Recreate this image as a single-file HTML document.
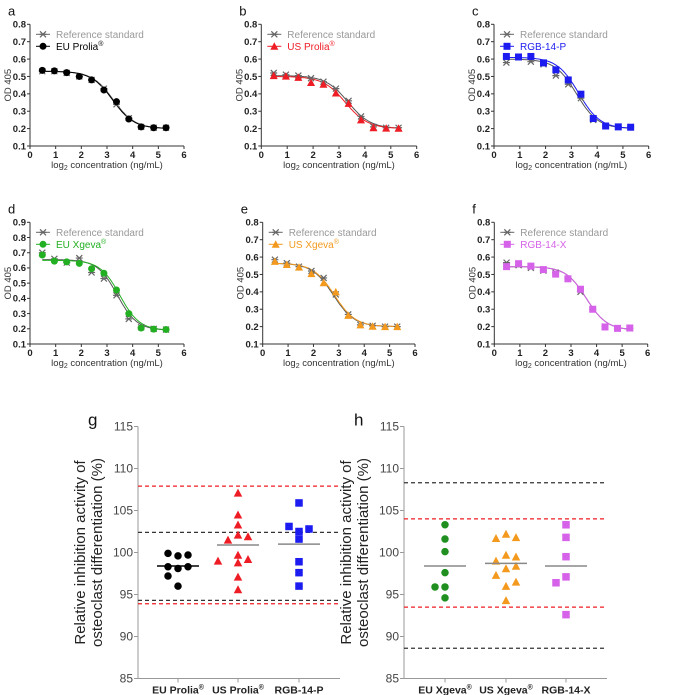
<!DOCTYPE html>
<html><head><meta charset="utf-8"><style>
body{margin:0;background:#fff}
svg{display:block;font-family:"Liberation Sans",Arial,sans-serif}
</style></head><body>
<svg id="c" width="685" height="695" viewBox="0 0 685 695"></svg>
<script>
const xConc=[0.48,0.95,1.43,1.92,2.4,2.88,3.37,3.85,4.33,4.82,5.3];
const panelLabels=['a','b','c','d','e','f'];
const sampleNames=['EU Prolia','US Prolia','RGB-14-P','EU Xgeva','US Xgeva','RGB-14-X'];
const sampleReg=[true,true,false,true,true,false];
const refVals=[
[.53,.53,.52,.50,.48,.43,.34,.26,.21,.205,.205],
[.52,.51,.505,.49,.47,.43,.36,.27,.21,.205,.205],
[.58,.61,.585,.57,.505,.455,.375,.25,.215,.21,.21],
[.70,.66,.635,.665,.57,.53,.42,.265,.21,.2,.195],
[.585,.565,.545,.52,.48,.385,.27,.21,.205,.2,.2],
[.568,.553,.538,.522,.51,.475,.40,.30,.2,.19,.19]];
const sampleVals=[
[.535,.532,.522,.500,.480,.422,.355,.255,.210,.205,.205],
[.505,.502,.495,.465,.455,.405,.345,.25,.205,.203,.202],
[.615,.612,.615,.578,.538,.48,.398,.258,.215,.21,.208],
[.685,.645,.64,.63,.595,.565,.455,.30,.205,.198,.195],
[.575,.557,.542,.505,.452,.40,.265,.21,.202,.2,.2],
[.545,.562,.548,.528,.502,.475,.415,.30,.198,.19,.192]];
// curve params [top,bottom,mid,steep]
const refFit=[[.53,.2,3.25,2.4],[.505,.2,3.35,2.3],[.60,.2,3.2,2.4],[.655,.19,3.4,2.6],[.565,.2,2.78,2.4],[.545,.18,3.6,2.5]];
const sampleFit=[[.53,.2,3.22,2.4],[.50,.2,3.25,2.3],[.61,.2,3.28,2.4],[.65,.19,3.5,2.6],[.565,.2,2.82,2.4],[.545,.18,3.6,2.5]];
const yTickCounts=[8,8,8,9,8,8];

const gCats=['EU Prolia','US Prolia','RGB-14-P'];
const gVals=[[99.6,99.9,99.7,98.1,98.3,98.3,97.2,96.0],
[107.1,104.5,103.3,102.1,101.5,101.9,99.7,98.8,99.2,99.0,97.1,95.6],
[105.9,102.5,103.1,102.8,101.6,98.9,97.6,96.0]];
const gMeans=[98.4,100.9,101.0];
const gRed=[107.9,93.9];const gBlack=[102.4,94.3];
const hCats=['EU Xgeva','US Xgeva','RGB-14-X'];
const hVals=[[103.3,101.6,100.1,97.6,95.9,95.9,94.6],
[102.2,101.7,101.8,99.7,99.0,99.5,98.1,98.4,97.3,96.0,96.5,94.3],
[103.3,101.8,99.5,97.1,96.4,92.6]];
const hMeans=[98.4,98.7,98.4];
const hRed=[104.0,93.5];const hBlack=[108.3,88.6];
const yTicksBottom=[85,90,95,100,105,110,115];

const colors=['#000','#ee1c24','#1c1cf0','#22b022','#f39a1e','#d562e8'];
const shapes=['circle','tri','square','circle','tri','square'];
const NS='http://www.w3.org/2000/svg';
const svg=document.getElementById('c');
function el(t,a,p){const e=document.createElementNS(NS,t);for(const k in a)e.setAttribute(k,a[k]);(p||svg).appendChild(e);return e;}
function txt(s,a,p){const e=el('text',a,p);e.textContent=s;return e;}
function marker(shape,cx,cy,s,col,g){
  let m;
  if(shape==='circle')m=el('circle',{cx:cx,cy:cy,r:s/2,fill:col},g);
  else if(shape==='square')m=el('rect',{x:cx-s/2,y:cy-s/2,width:s,height:s,fill:col},g);
  else m=el('polygon',{points:`${cx},${cy-s/2-0.5} ${cx+s/2+0.5},${cy+s/2} ${cx-s/2-0.5},${cy+s/2}`,fill:col},g);
  return m;
}
function refMark(cx,cy,g){
  return el('path',{d:`M${cx-3},${cy-3}L${cx+3},${cy+3}M${cx-3},${cy+3}L${cx+3},${cy-3}M${cx-3.5},${cy}L${cx+3.5},${cy}`,stroke:'#666','stroke-width':1.2},g);
}
const layout=[[30,184,24.3,146],[261.3,416.7,24.3,146],[494,648.7,24.3,146],[30,184,222.3,344],[262.7,415,222.3,344],[494.3,647.7,222.3,344]];
for(let p=0;p<6;p++){
  const [x0,x6,yT,yB]=layout[p];const n=yTickCounts[p];const ymax=0.1*n;
  const X=v=>x0+(x6-x0)*v/6;const Y=v=>yB-(yB-yT)*(v-0.1)/(ymax-0.1);
  const g=el('g',{},svg);
  
  
  const pl=txt(panelLabels[p],{x:x0-22,y:yT-9,'font-size':13,fill:'#111'},g);
  
  el('line',{x1:x0,y1:yT,x2:x0,y2:yB,stroke:'#333','stroke-width':1},g);
  el('line',{x1:x0,y1:yB,x2:x6,y2:yB,stroke:'#333','stroke-width':1},g);
  for(let k=1;k<=n;k++){const v=k/10;const y=Y(v);
    el('line',{x1:x0-3,y1:y,x2:x0,y2:y,stroke:'#333'},g);
    txt(v.toFixed(1),{x:x0-4,y:y+3.3,'font-size':9.5,'font-weight':'bold','text-anchor':'end',fill:'#222'},g);}
  for(let v=0;v<=6;v++){const x=X(v);
    el('line',{x1:x,y1:yB,x2:x,y2:yB+3,stroke:'#333'},g);
    txt(String(v),{x:x,y:yB+12,'font-size':9.5,'font-weight':'bold','text-anchor':'middle',fill:'#222'},g);}
  const yt=txt('OD 405',{x:0,y:0,'font-size':9.5,'text-anchor':'middle',fill:'#333',transform:`translate(${x0-19},${(yT+yB)/2}) rotate(-90)`},g);
  
  const xt=el('text',{x:(x0+x6)/2,y:yB+22,'font-size':9.5,'text-anchor':'middle',fill:'#333'},g);
  
  xt.innerHTML='log<tspan font-size="7" dy="2">2</tspan><tspan dy="-2"> concentration (ng/mL)</tspan>';
  [[refFit[p],'#555'],[sampleFit[p],colors[p]]].forEach(([f,col],i)=>{
    let d='';for(let k=0;k<=100;k++){const x=0.48+(5.3-0.48)*k/100;const y=f[1]+(f[0]-f[1])/(1+Math.exp(f[3]*(x-f[2])));d+=(k?'L':'M')+X(x).toFixed(1)+','+Y(y).toFixed(1);}
    const c=el('path',{d:d,fill:'none',stroke:col,'stroke-width':1},g);
    
  });
  refVals[p].forEach((v,i)=>{const m=refMark(X(xConc[i]),Y(v),g);});
  sampleVals[p].forEach((v,i)=>{const m=marker(shapes[p],X(xConc[i]),Y(v),7,colors[p],g);});
  const lx=x0+6,ly=yT+10;
  const lg=el('g',{},g);
  el('line',{x1:lx,y1:ly,x2:lx+14,y2:ly,stroke:'#666'},lg);refMark(lx+7,ly,lg);
  txt('Reference standard',{x:lx+20,y:ly+3.5,'font-size':10,fill:'#999'},lg);
  el('line',{x1:lx,y1:ly+12,x2:lx+14,y2:ly+12,stroke:colors[p]},lg);marker(shapes[p],lx+7,ly+12,7,colors[p],lg);
  const st=el('text',{x:lx+20,y:ly+15.5,'font-size':10,fill:p===0?'#000':colors[p]},lg);
  st.innerHTML=sampleNames[p]+(sampleReg[p]?'<tspan font-size="7" dy="-4">®</tspan>':'');
}
function dotPanel(name,label,ax,xEnd,cats,vals,means,red,black,catX,cols,shp,regs){
  const yT=426.5,yB=678.5;const Y=v=>yB-(yB-yT)*(v-85)/30;
  const g=el('g',{},svg);
  const pl=txt(label,{x:ax-50,y:yT-1,'font-size':17,fill:'#111'},g);
  
  el('line',{x1:ax,y1:yT,x2:ax,y2:yB,stroke:'#999'},g);
  el('line',{x1:ax,y1:yB,x2:xEnd,y2:yB,stroke:'#999'},g);
  yTicksBottom.forEach(v=>{el('line',{x1:ax-4,y1:Y(v),x2:ax,y2:Y(v),stroke:'#999'},g);
    txt(String(v),{x:ax-5,y:Y(v)+4,'font-size':12,'text-anchor':'end',fill:'#444'},g);});
  const t=el('text',{'font-size':15,'text-anchor':'middle',fill:'#222',transform:`translate(${ax-36},${(yT+yB)/2}) rotate(-90)`},g);
  
  t.innerHTML='<tspan x="0" y="-17">Relative inhibition activity of</tspan><tspan x="0" y="0">osteoclast differentiation  (%)</tspan>';
  red.forEach(v=>{const l=el('line',{x1:ax,y1:Y(v),x2:xEnd,y2:Y(v),stroke:'#ee1c24','stroke-width':1.3,'stroke-dasharray':'4,3'},g);});
  black.forEach(v=>{const l=el('line',{x1:ax,y1:Y(v),x2:xEnd,y2:Y(v),stroke:'#333','stroke-width':1.3,'stroke-dasharray':'4,3'},g);});
  cats.forEach((c,i)=>{const cx=catX[i];
    el('line',{x1:cx,y1:yB,x2:cx,y2:yB+4,stroke:'#999'},g);
    const ct=el('text',{x:cx,y:yB+15,'font-size':10.5,'font-weight':'bold','text-anchor':'middle',fill:'#222'},g);
    
    ct.innerHTML=c+(regs[i]?'<tspan font-size="7" dy="-4">®</tspan>':'');
    const placed=[];
    vals[i].forEach(v=>{const near=placed.filter(q=>Math.abs(q-v)<0.9).length;placed.push(v);
      const off=[0,-10,10,-20,20][near%5];
      const m=marker(shp[i],cx+off,Y(v),7.5,cols[i],g);});
    const ml=el('line',{x1:cx-21,y1:Y(means[i]),x2:cx+21,y2:Y(means[i]),stroke:cols[i]==='#000'?'#000':'#888','stroke-width':1.5},g);
    
  });
}
dotPanel('panel-g','g',138,340,gCats,gVals,gMeans,gRed,gBlack,[178,238,299],['#000','#ee1c24','#1c1cf0'],['circle','tri','square'],[true,true,false]);
dotPanel('panel-h','h',404,607,hCats,hVals,hMeans,hRed,hBlack,[445,506,566],['#1f8f1f','#f39a1e','#d562e8'],['circle','tri','square'],[true,true,false]);
</script>
</body></html>
